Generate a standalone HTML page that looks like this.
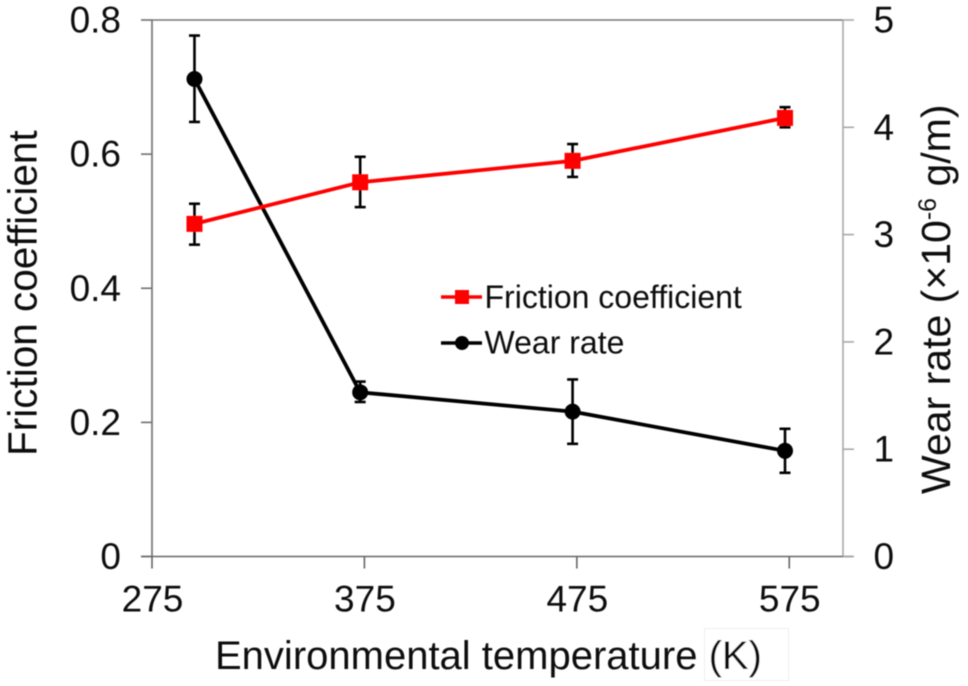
<!DOCTYPE html>
<html lang="en">
<head>
<meta charset="utf-8">
<title>Friction coefficient and wear rate vs temperature</title>
<style>
html,body{margin:0;padding:0;background:#fff;}
body{width:968px;height:686px;overflow:hidden;}
svg{display:block;}
text{font-family:"Liberation Sans",Arial,sans-serif;fill:#111111;}
</style>
</head>
<body>
<svg id="chart" xmlns="http://www.w3.org/2000/svg" width="968" height="686" viewBox="0 0 968 686">
<defs><filter id="soft" x="-5%" y="-5%" width="110%" height="110%"><feGaussianBlur stdDeviation="0.45"/></filter></defs>
<g id="root" filter="url(#soft)"></g>
</svg>
<script>
const temperatures = [295, 373, 473, 573];
const frictionValues = [0.496, 0.558, 0.590, 0.654];
const frictionUpper = [0.526, 0.596, 0.615, 0.670];
const frictionLower = [0.465, 0.521, 0.566, 0.640];
const wearValues = [4.45, 1.53, 1.35, 0.985];
const wearUpper = [4.855, 1.63, 1.65, 1.19];
const wearLower = [4.05, 1.44, 1.05, 0.78];
const xTickValues = [275, 375, 475, 575];
const leftTickLabels = ['0', '0.2', '0.4', '0.6', '0.8'];
const rightTickLabels = ['0', '1', '2', '3', '4', '5'];

const NS = 'http://www.w3.org/2000/svg';
const root = document.getElementById('root');
const plot = {left: 152, right: 843, top: 20, bottom: 556.5};
const xMin = 275, xMax = 600.3, leftMax = 0.8, rightMax = 5;
function sx(v) { return plot.left + (v - xMin) / (xMax - xMin) * (plot.right - plot.left); }
function syL(v) { return plot.bottom - v / leftMax * (plot.bottom - plot.top); }
function syR(v) { return plot.bottom - v / rightMax * (plot.bottom - plot.top); }

function make(tag, attrs, parent, text) {
  const el = document.createElementNS(NS, tag);
  for (const k in attrs) el.setAttribute(k, attrs[k]);
  if (text !== undefined) el.textContent = text;
  (parent || root).appendChild(el);
  return el;
}
function line(x1, y1, x2, y2, color, w, parent) {
  return make('line', {x1: x1, y1: y1, x2: x2, y2: y2, stroke: color, 'stroke-width': w}, parent);
}

// K label highlight box
const kBox = make('rect', {x: 704.5, y: 628.5, width: 84, height: 52, fill: '#fff', stroke: '#eeeeee', 'stroke-width': 1});



// axes frame
const axisTop = line(plot.left, plot.top, plot.right, plot.top, '#777777', 1.6);


const axisLeft = line(plot.left, plot.top, plot.left, plot.bottom, '#6e6e6e', 1.6);


const axisRight = line(plot.right, plot.top, plot.right, plot.bottom, '#a8a8a8', 1.6);


const axisBottom = line(plot.left - 11, plot.bottom, plot.right + 10, plot.bottom, '#666666', 1.6);



// left ticks
leftTickLabels.forEach(function (lab) {
  const y = syL(parseFloat(lab));
  const t = line(plot.left - 11, y, plot.left, y, '#6e6e6e', 1.6);
  
  
  const l = make('text', {x: 121, y: y + 12.5, 'text-anchor': 'end', 'font-size': 37}, root, lab);
  
  
});
// right ticks
rightTickLabels.forEach(function (lab) {
  const y = syR(parseFloat(lab));
  const t = line(plot.right, y, plot.right + 11, y, '#a8a8a8', 1.6);
  
  
  const l = make('text', {x: 873.5, y: y + 12.5, 'text-anchor': 'start', 'font-size': 37}, root, lab);
  
  
});
// x ticks
xTickValues.forEach(function (v) {
  const x = sx(v);
  const t = line(x, plot.bottom, x, plot.bottom + 12, '#666666', 1.6);
  
  
  const l = make('text', {x: x + 0.5, y: 611.5, 'text-anchor': 'middle', 'font-size': 37}, root, String(v));
  
  
});

// series
function drawSeries(name, values, upper, lower, sy, color, markerShape) {
  const g = make('g', {});
  
  
  values.forEach(function (v, i) {
    const x = sx(temperatures[i]);
    const e = make('g', {}, g);
    
    
    line(x, sy(upper[i]), x, sy(lower[i]), '#000', 2.6, e);
    line(x - 5.5, sy(upper[i]), x + 5.5, sy(upper[i]), '#000', 2.6, e);
    line(x - 5.5, sy(lower[i]), x + 5.5, sy(lower[i]), '#000', 2.6, e);
  });
  const pts = values.map(function (v, i) { return sx(temperatures[i]) + ',' + sy(v); }).join(' ');
  const pl = make('polyline', {points: pts, fill: 'none', stroke: color, 'stroke-width': 3.8, 'stroke-linejoin': 'round'}, g);
  
  
  values.forEach(function (v, i) {
    const x = sx(temperatures[i]), y = sy(v);
    let m;
    if (markerShape === 'square') {
      m = make('rect', {x: x - 8, y: y - 8, width: 16, height: 16, fill: color}, g);
    } else {
      m = make('circle', {cx: x, cy: y, r: 8, fill: color}, g);
    }
    
    
  });
}
drawSeries('wear-rate', wearValues, wearUpper, wearLower, syR, '#000000', 'circle');
drawSeries('friction', frictionValues, frictionUpper, frictionLower, syL, '#ff0000', 'square');

// legend
const legend = make('g', {});


const le1 = make('g', {}, legend);


line(441, 297, 482, 297, '#ff0000', 3.4, le1);
make('rect', {x: 455, y: 290, width: 14, height: 14, fill: '#ff0000'}, le1);
make('text', {x: 484.5, y: 308, 'font-size': 32}, le1, 'Friction coefficient');
const le2 = make('g', {}, legend);


line(441, 343, 482, 343, '#000000', 3.4, le2);
make('circle', {cx: 462, cy: 343, r: 7, fill: '#000'}, le2);
make('text', {x: 484.5, y: 353.5, 'font-size': 32}, le2, 'Wear rate');

// axis titles
const xTitle = make('text', {x: 215, y: 669, 'font-size': 40}, root, 'Environmental temperature (K)');


const yTitleL = make('text', {x: 0, y: 0, 'font-size': 40.5, transform: 'translate(36.5,456) rotate(-90)'}, root, 'Friction coefficient');


const yTitleR = make('text', {x: 0, y: 0, 'font-size': 41, transform: 'translate(950,494) rotate(-90)'}, root);


make('tspan', {}, yTitleR, 'Wear rate (×10');
make('tspan', {dy: -14, 'font-size': 25}, yTitleR, '-6');
make('tspan', {dy: 14}, yTitleR, ' g/m)');
</script>
</body>
</html>
